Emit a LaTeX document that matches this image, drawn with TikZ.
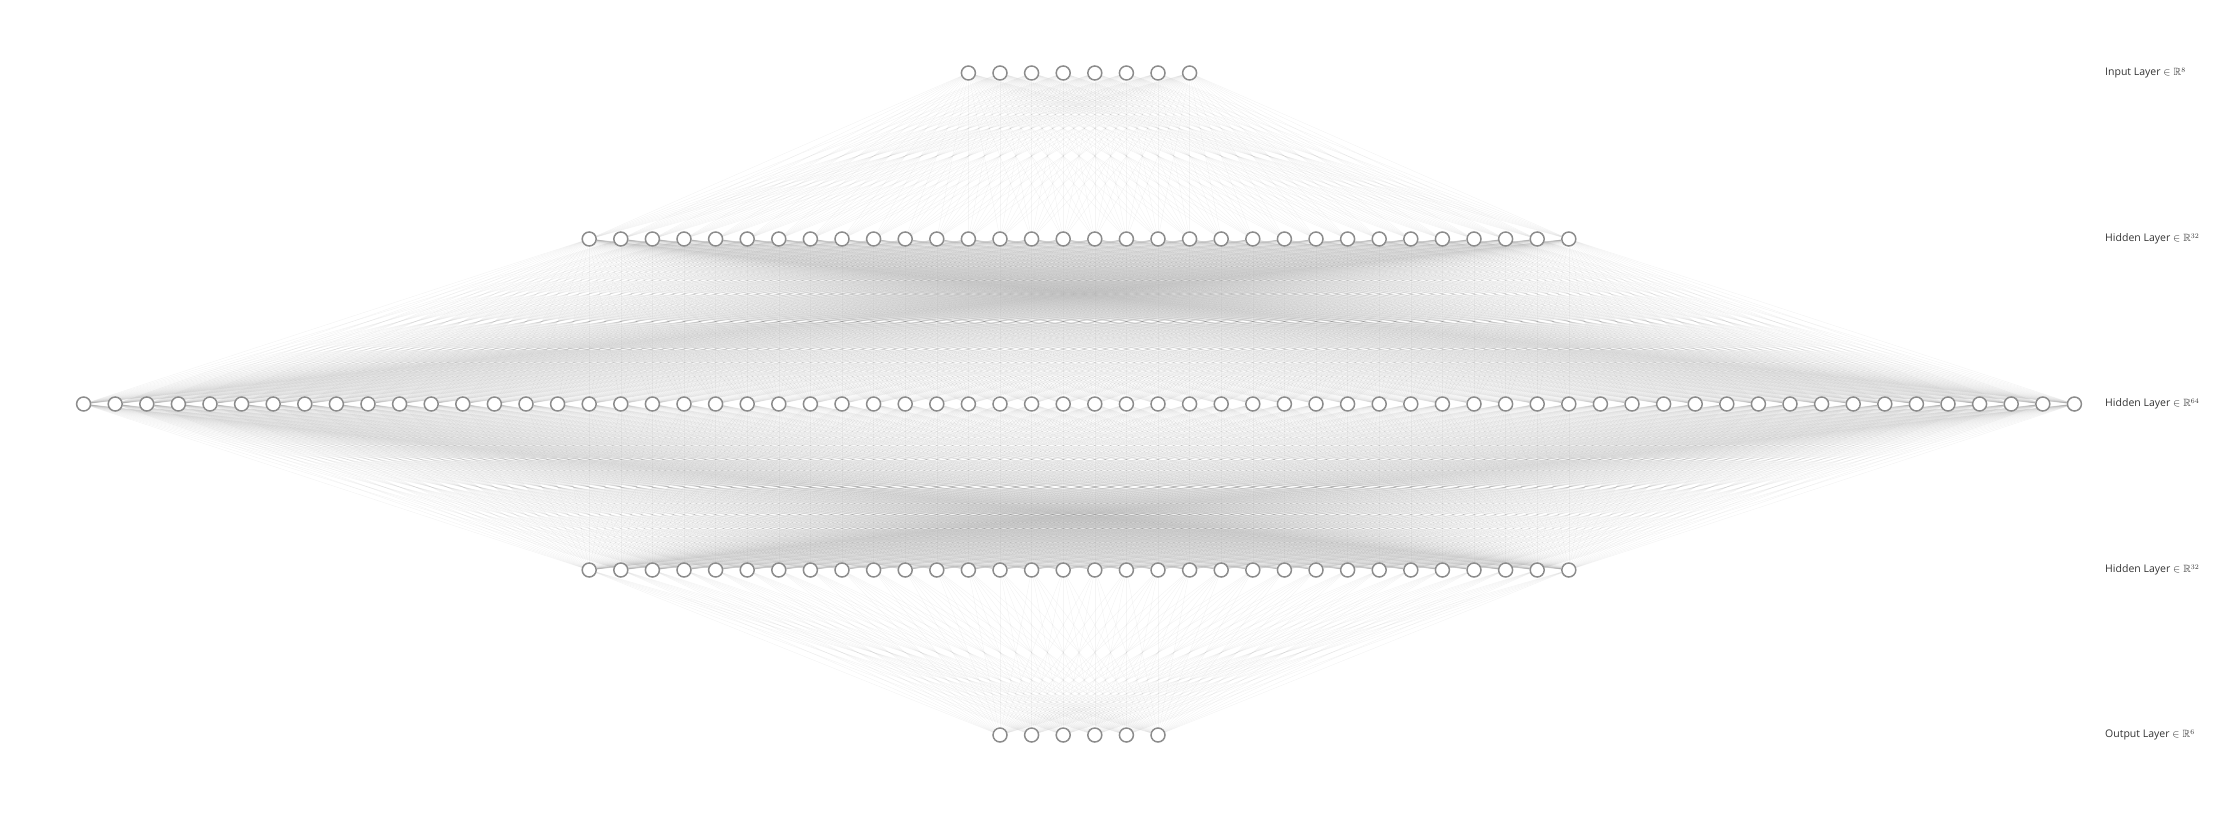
\documentclass[tikz,border=0pt]{standalone}
\usepackage{amssymb}
\usepackage{fontspec}
\setmainfont{Open Sans}
\pgfdeclarelayer{bg}
\pgfsetlayers{bg,main}
\begin{document}
\begin{tikzpicture}[x=1pt,y=1pt,
  neuron/.style={circle,draw=black!45,line width=1.5pt,fill=white,minimum size=14pt,inner sep=0pt},
  edge/.style={draw=black!45,line width=0.5pt,opacity=0.09},
  lab/.style={anchor=west,inner sep=0pt,font=\fontsize{10.5}{12}\selectfont,text=black!80}]
\useasboundingbox (0,0) rectangle (2230,-816);
\foreach \l/\n/\y in {1/8/73,2/32/239,3/64/404,4/32/570,5/6/735} {
  \foreach \i in {1,...,\n} {
    \node[neuron] (L\l-\i) at ({1079+(\i-(\n+1)/2)*31.6}, -\y) {};
  }
}
\begin{pgfonlayer}{bg}
\foreach \a/\na/\b/\nb in {1/8/2/32, 2/32/3/64, 3/64/4/32, 4/32/5/6} {
  \foreach \i in {1,...,\na} {
    \foreach \j in {1,...,\nb} {
      \draw[edge] (L\a-\i) -- (L\b-\j);
    }
  }
}
\end{pgfonlayer}
\node[lab] (t1) at (2105,-73) {Input Layer $\in \mathbb{R}^{8}$};
\node[lab] (t2) at (2105,-239) {Hidden Layer $\in \mathbb{R}^{32}$};
\node[lab] (t3) at (2105,-404) {Hidden Layer $\in \mathbb{R}^{64}$};
\node[lab] (t4) at (2105,-570) {Hidden Layer $\in \mathbb{R}^{32}$};
\node[lab] (t5) at (2105,-735) {Output Layer $\in \mathbb{R}^{6}$};
\end{tikzpicture}
\end{document}
